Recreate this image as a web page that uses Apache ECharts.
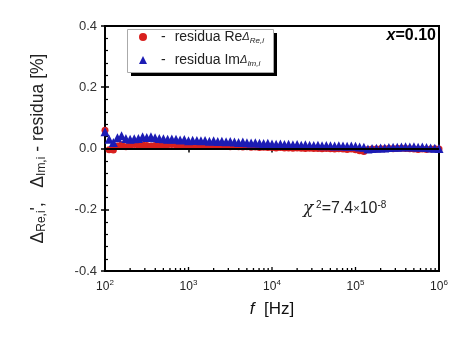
<!DOCTYPE html>
<html><head><meta charset="utf-8">
<script src="https://cdn.jsdelivr.net/npm/echarts@6/dist/echarts.min.js"></script>
<style>html,body{margin:0;padding:0;background:#fff}#c{width:474px;height:339px}</style>
</head><body><div id="c"></div>
<script>
const freq = [
 100,112,126,141,158,178,200,224,251,282,316,355,398,447,501,562,631,708,794,891,
 1000,1120,1260,1410,1580,1780,2000,2240,2510,2820,3160,3550,3980,4470,5010,5620,6310,7080,7940,8910,
 10000,11200,12600,14100,15800,17800,20000,22400,25100,28200,31600,35500,39800,44700,50100,56200,63100,70800,79400,89100,
 100000,112000,126000,141000,158000,178000,200000,224000,251000,282000,316000,355000,398000,447000,501000,562000,631000,708000,794000,891000,
 1000000
];
const residRe = [
 0.060,-0.004,-0.005,0.008,0.012,0.006,0.010,0.013,0.011,0.012,0.010,0.008,0.010,0.012,0.011,0.012,0.013,0.012,0.010,0.011,
 0.008,0.010,0.009,0.010,0.008,0.009,0.010,0.008,0.007,0.008,0.006,0.007,0.006,0.005,0.006,0.004,0.005,0.003,0.004,0.003,
 0.003,0.002,0.003,0.002,0.002,0.001,0.002,0.001,0.000,0.001,0.000,0.000,-0.001,0.000,-0.001,-0.002,-0.001,-0.002,-0.003,-0.002,
 -0.004,-0.007,-0.010,-0.003,-0.002,-0.002,-0.001,-0.001,0.000,-0.001,0.000,0.001,0.000,-0.001,-0.002,-0.003,-0.002,-0.003,-0.002,-0.001,
 -0.002
];
const residIm = [
 0.055,0.030,0.020,0.035,0.042,0.033,0.030,0.032,0.033,0.038,0.036,0.038,0.035,0.033,0.032,0.030,0.031,0.030,0.028,0.029,
 0.025,0.027,0.026,0.025,0.026,0.024,0.025,0.023,0.024,0.022,0.023,0.021,0.020,0.021,0.019,0.018,0.019,0.017,0.016,0.017,
 0.015,0.014,0.015,0.013,0.014,0.012,0.013,0.011,0.012,0.011,0.010,0.011,0.009,0.010,0.009,0.008,0.009,0.008,0.007,0.008,
 0.007,0.005,0.004,-0.002,0.000,0.001,0.002,0.002,0.003,0.004,0.004,0.005,0.006,0.005,0.006,0.004,0.005,0.003,0.002,0.001,
 0.000
];
const yTicks = [-0.4, -0.2, 0.0, 0.2, 0.4];
const xDecades = [2, 3, 4, 5, 6];
const legendNames = ['Re', 'Im'];

const tickMarks = [];
for (let d = xDecades[0]; d < xDecades[xDecades.length - 1]; d++) {
  for (let m = 1; m <= 9; m++) tickMarks.push([m * Math.pow(10, d), m === 1 ? 1 : 0]);
}
tickMarks.push([Math.pow(10, xDecades[xDecades.length - 1]), 1]);

const chart = echarts.init(document.getElementById('c'), null, {renderer: 'canvas'});
const FONT = 'Liberation Sans, Arial, sans-serif';
const RED = '#d8201e', BLUE = '#1c1cb4';

chart.setOption({
  animation: false,
  backgroundColor: '#fff',
  grid: {left: 105, right: 35, top: 26, bottom: 68, show: true, borderColor: '#000', borderWidth: 2, backgroundColor: 'transparent'},
  xAxis: {
    type: 'log', logBase: 10, min: Math.pow(10, xDecades[0]), max: Math.pow(10, xDecades[xDecades.length-1]),
    axisLine: {lineStyle: {color: '#000', width: 2}},
    axisTick: {show: true, inside: false, length: 4, lineStyle: {color: '#000', width: 1.5}},
    splitLine: {show: false},
    axisLabel: {
      margin: 8, color: '#222', fontFamily: FONT, fontSize: 12,
      formatter: v => '10{sup|' + Math.round(Math.log10(v)) + '}',
      rich: {sup: {fontSize: 8, verticalAlign: 'top', padding: [0, 0, 7, 0], color: '#222', fontFamily: FONT}}
    },
    name: '{i|f}  [Hz]', nameLocation: 'middle', nameGap: 30,
    nameTextStyle: {fontFamily: FONT, fontSize: 17, color: '#111', rich: {i: {fontStyle: 'italic', fontFamily: FONT, fontSize: 17, color: '#111'}}}
  },
  yAxis: [{
    type: 'value', min: yTicks[0], max: yTicks[yTicks.length-1], interval: 0.2,
    axisLine: {lineStyle: {color: '#000', width: 2}},
    axisTick: {show: true, inside: true, length: 4, lineStyle: {color: '#000', width: 1.5}},
    minorTick: {show: true, splitNumber: 5, length: 3, lineStyle: {color: '#000', width: 1.2}},
    splitLine: {show: false},
    axisLabel: {margin: 8, color: '#333', fontFamily: FONT, fontSize: 13, formatter: v => v.toFixed(1)},
    name: '{d|Δ}{s|Re,i}{t|\',}   {d|Δ}{s|Im,i}{t| - residua [%]}', nameLocation: 'middle', nameRotate: 90, nameGap: 57,
    nameTextStyle: {color: '#222', fontFamily: FONT, fontSize: 17.5, rich: {
      d: {fontSize: 17.5, fontFamily: FONT, color: '#222'},
      s: {fontSize: 12, fontFamily: FONT, color: '#222', verticalAlign: 'bottom', padding: [8, 0, 0, 0]},
      t: {fontSize: 17.5, fontFamily: FONT, color: '#222'}
    }}
  }, {
    type: 'value', min: yTicks[0], max: yTicks[yTicks.length-1], interval: 0.2, position: 'left',
    axisLine: {show: false}, axisLabel: {show: false}, splitLine: {show: false},
    axisTick: {show: true, inside: false, length: 4, lineStyle: {color: '#000', width: 1.5}}
  }],
  legend: {
    orient: 'vertical', left: 127, top: 29, itemGap: 7, itemWidth: 8, itemHeight: 8,
    padding: [0, 10, 0, 12], z: 10,
    data: [{name: legendNames[0], icon: 'circle'}, {name: legendNames[1], icon: 'triangle'}],
    formatter: n => n === 'Re'
      ? '{dash|-}residua Re{d|Δ}{s|Re,i}'
      : '{dash|-}residua Im{d|Δ}{s|Im,i}',
    textStyle: {fontFamily: FONT, fontSize: 14, color: '#222', lineHeight: 16, rich: {
      dash: {fontSize: 14, fontFamily: FONT, color: '#222', padding: [0, 9, 0, 9]},
      d: {fontSize: 11, fontStyle: 'italic', fontFamily: FONT, color: '#222'},
      s: {fontSize: 8, fontStyle: 'italic', fontFamily: FONT, color: '#222', verticalAlign: 'bottom', padding: [6, 0, 0, 0]}
    }}
  },
  graphic: [
    {type: 'rect', z: 5, left: 131, top: 33, shape: {width: 146, height: 43}, style: {fill: '#000'}},
    {type: 'rect', z: 6, left: 127, top: 29, shape: {width: 146, height: 43}, style: {fill: '#fff', stroke: '#aaa', lineWidth: 1}},
    {type: 'text', right: 38, top: 28, style: {text: '{i|x}=0.10', font: 'bold 16px ' + FONT, fill: '#000',
      rich: {i: {fontStyle: 'italic', fontWeight: 'bold', fontSize: 16, fontFamily: FONT, fill: '#000'}}}},
    {type: 'text', left: 303, top: 200, style: {text: '{c|χ}{p| 2}=7.4{x|×}10{p|-8}', font: '16px ' + FONT, fill: '#222',
      rich: {c: {fontStyle: 'italic', fontSize: 17, fontFamily: 'DejaVu Serif', fill: '#222'},
             p: {fontSize: 10, fontFamily: FONT, verticalAlign: 'top', padding: [0, 0, 8, 0], fill: '#222'},
             x: {fontSize: 11, fontFamily: FONT, fill: '#222'}}}}
  ],
  series: [
    {name: legendNames[0], type: 'scatter', symbol: 'circle', symbolSize: 7, itemStyle: {color: RED, opacity: 1},
     data: freq.map((f, i) => [f, residRe[i]]), z: 3},
    {name: legendNames[1], type: 'scatter', symbol: 'triangle', symbolSize: 9, itemStyle: {color: BLUE, opacity: 1},
     data: freq.map((f, i) => [f, residIm[i]]), z: 4,
     markLine: {silent: true, symbol: 'none', label: {show: false}, lineStyle: {color: '#000', width: 2, type: 'solid'},
       data: [{yAxis: 0}], z: 5}},
    {type: 'custom', silent: true, z: 6, clip: false,
     data: tickMarks,
     renderItem: (params, api) => {
       const p = api.coord([api.value(0), yTicks[0]]);
       const len = api.value(1) ? 4 : 3;
       return {type: 'line', shape: {x1: p[0], y1: p[1], x2: p[0], y2: p[1] - len},
               style: {stroke: '#000', lineWidth: 1.3}};
     }}
  ]
});
</script></body></html>
